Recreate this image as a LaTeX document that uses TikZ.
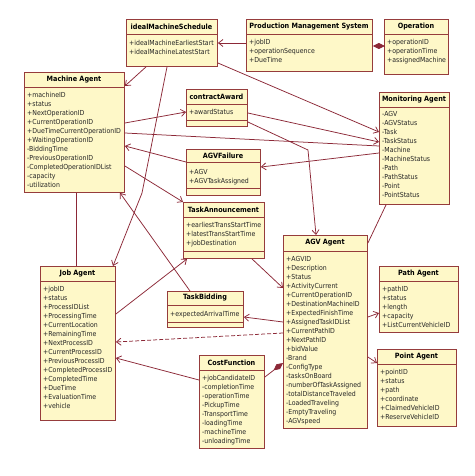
\documentclass[tikz,border=0pt]{standalone}
\usepackage{fontspec}
\setmainfont{DejaVu Sans Condensed}
\usetikzlibrary{arrows.meta}
\definecolor{umlred}{RGB}{140,40,55}
\definecolor{umlbd}{RGB}{150,60,60}
\definecolor{umlfill}{RGB}{254,248,200}
\tikzset{
 cls/.style={draw=umlbd, fill=umlfill, line width=0.9pt, inner sep=0pt, anchor=north west, rectangle},
 divl/.style={draw=umlbd, line width=0.9pt},
 hdr/.style={font=\fontsize{7.2}{8}\selectfont\bfseries, inner sep=0pt, text=black},
 attr/.style={font=\fontsize{6.9}{8}\selectfont, inner sep=0pt, anchor=west, text height=4.6pt, text depth=0pt, text=black!85},
 conn/.style={draw=umlred, line width=0.75pt},
 arr/.style={conn, -{Straight Barb[length=4.5pt,width=7pt]}},
 comp/.style={conn, {Diamond[length=12pt,width=6pt,fill=umlred]}-},
}
\newcommand\umlbox[9]{%
 \node[cls, minimum width={#4pt-#2pt}, minimum height={#5pt-#3pt}] (#1) at (#2,#3) {};
 \draw[divl] (#2,#6) -- (#4,#6);
 \node[hdr] (#1-t) at ({(#2+#4)/2},{(#3+#6)/2}) {#7};
 \foreach \atxt [count=\ai] in {#9} { \node[attr] (#1-\ai) at (#2+3,{#8+9*(\ai-1)}) {\atxt}; }
}
\begin{document}
\begin{tikzpicture}[x=1pt,y=-1pt]
\fill[white] (0,0) rectangle (474,476);
\useasboundingbox (0,0) rectangle (474,476);

\umlbox{ims}{126}{19}{217}{66}{34}{idealMachineSchedule}{43}{+idealMachineEarliestStart,+idealMachineLatestStart}
\umlbox{pms}{246}{19}{372}{71}{34}{Production Management System}{42}{+jobID,+operationSequence,+DueTime}
\umlbox{op}{384}{19}{448}{74}{34}{Operation}{42}{+operationID,+operationTime,+assignedMachine}
\umlbox{ma}{24}{72}{124}{192}{87}{Machine Agent}{95}{+machineID,+status,+NextOperationID,+CurrentOperationID,+DueTimeCurrentOperationID,+WaitingOperationID,-BiddingTime,-PreviousOperationID,-CompletedOperationIDList,-capacity,-utilization}
\umlbox{ca}{186}{89}{247}{126}{104}{contractAward}{112}{+awardStatus}
\draw[divl] (186,120) -- (247,120);
\umlbox{mon}{379}{92}{449}{204}{107}{Monitoring Agent}{114}{-AGV,-AGVStatus,-Task,-TaskStatus,-Machine,-MachineStatus,-Path,-PathStatus,-Point,-PointStatus}
\umlbox{af}{186}{149}{260}{195}{162}{AGVFailure}{172}{+AGV,+AGVTaskAssigned}
\draw[divl] (186,188) -- (260,188);
\umlbox{ta}{183}{202}{264}{258}{217}{TaskAnnouncement}{225}{+earliestTransStartTime,+latestTransStartTime,+jobDestination}
\draw[divl] (183,251) -- (264,251);
\umlbox{tb}{167}{291}{243}{327}{305}{TaskBidding}{314}{+expectedArrivalTime}
\draw[divl] (167,322) -- (243,322);
\umlbox{agv}{283}{235}{367}{428}{251}{AGV Agent}{259}{+AGVID,+Description,+Status,+ActivityCurrent,+CurrentOperationID,+DestinationMachineID,+ExpectedFinishTime,+AssignedTaskIDList,+CurrentPathID,+NextPathID,+bidValue,-Brand,-ConfigType,-tasksOnBoard,-numberOfTaskAssigned,-totalDistanceTraveled,-LoadedTraveling,-EmptyTraveling,-AGVspeed}
\umlbox{path}{379}{266}{458}{332}{281}{Path Agent}{289}{+pathID,+status,+length,+capacity,+ListCurrentVehicleID}
\umlbox{point}{377}{349}{456}{426}{364}{Point Agent}{372}{+pointID,+status,+path,+coordinate,+ClaimedVehicleID,+ReserveVehicleID}
\umlbox{job}{40}{266}{115}{420}{281}{Job Agent}{289}{+jobID,+status,+ProcessIDList,+ProcessingTime,+CurrentLocation,+RemainingTime,+NextProcessID,+CurrentProcessID,+PreviousProcessID,+CompletedProcessID,+CompletedTime,+DueTime,+EvaluationTime,+vehicle}
\umlbox{cf}{199}{355}{264}{448}{370}{CostFunction}{378}{+jobCandidateID,-completionTime,-operationTime,-PickupTime,-TransportTime,-loadingTime,-machineTime,-unloadingTime}

% connectors
\draw[arr] (pms.west |- 0,43) -- (ims.east |- 0,43);
\draw[comp] (pms.east |- 0,46) -- (op.west |- 0,46);
\draw[arr] (ims.south -| 146,0) -- (ma.east |- 0,86);
\draw[arr] (ims.east |- 0,63) -- (mon.west |- 0,132);
\draw[arr] (ims.south -| 167,0) -- (142,193) -- (job.north -| 113,0);
\draw[arr] (ma.east |- 0,123) -- (ca.west |- 0,112);
\draw[conn] (ma.east |- 0,133) -- (mon.west |- 0,146);
\draw[arr] (af.west |- 0,162) -- (ma.east |- 0,146);
\draw[arr] (mon.west |- 0,153) -- (af.east |- 0,167);
\draw[arr] (ma.east |- 0,166) -- (ta.north west);
\draw[arr] (ca.east |- 0,113) -- (mon.west |- 0,142);
\draw[arr] (ca.east |- 0,122) -- (308,150) -- (agv.north -| 316,0);
\draw[conn] (mon.south -| 386,0) -- (agv.east |- 0,243);
\draw[arr] (ta.south -| 252,0) -- (agv.west |- 0,288);
\draw[arr] (agv.west |- 0,322) -- (tb.east |- 0,317);
\draw[arr] (job.east |- 0,314) -- (ta.south -| 187,0);
\draw[arr] (tb.north -| 190,0) -- (ma.south -| 120,0);
\draw[conn] (ma.south -| 76,0) -- (job.north -| 76,0);
\draw[arr, dashed, dash pattern=on 4pt off 2pt] (agv.west |- 0,333) -- (job.east |- 0,342);
\draw[arr] (cf.west |- 0,380) -- (job.east |- 0,358);
\draw[comp] (agv.west |- 0,363) -- (cf.east |- 0,377);
\draw[arr] (agv.east |- 0,317) -- (path.west |- 0,313);
\draw[arr] (agv.east |- 0,357) -- (point.west |- 0,363);
\end{tikzpicture}
\end{document}
